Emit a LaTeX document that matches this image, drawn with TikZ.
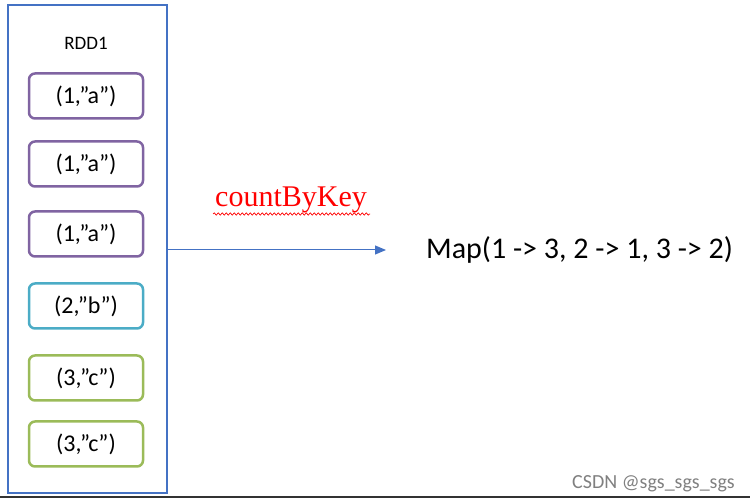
\documentclass[tikz,border=0pt]{standalone}
\usepackage{fontspec}
\setmainfont{Carlito}
\newfontfamily\serifred{Liberation Serif}
\usetikzlibrary{decorations.pathmorphing,arrows.meta}
\definecolor{outerblue}{HTML}{4472C4}
\definecolor{purp}{HTML}{8064A2}
\definecolor{teal}{HTML}{4BACC6}
\definecolor{lgreen}{HTML}{9BBB59}
\definecolor{arrowblue}{HTML}{4472C4}
\tikzset{pair/.style={draw=#1,line width=2.5pt,rounded corners=6pt,minimum width=114pt,minimum height=45pt,font=\fontsize{24}{28}\selectfont,inner sep=0pt}}
\begin{document}
\begin{tikzpicture}[x=1pt,y=-1pt]
\useasboundingbox (0,0) rectangle (750,502);
\node[draw=outerblue,line width=2pt,minimum width=159pt,minimum height=488pt,inner sep=0pt] (rdd) at (87.5,249) {};
\node[font=\fontsize{19}{22}\selectfont] (title) at (86,43) {RDD1};
\node[pair=purp] (p1) at (86,96) {(1,”a”)};
\node[pair=purp] (p2) at (86,164) {(1,”a”)};
\node[pair=purp] (p3) at (86,234) {(1,”a”)};
\node[pair=teal] (p4) at (86,306) {(2,”b”)};
\node[pair=lgreen] (p5) at (86,378) {(3,”c”)};
\node[pair=lgreen] (p6) at (86,444) {(3,”c”)};
\node[anchor=west,font=\fontsize{30}{34}\selectfont,inner sep=0pt] (map) at (426,250) {Map(1 -> 3, 2 -> 1, 3 -> 2)};
\coordinate (a0) at (168,250);
\coordinate (a1) at (386,250);
\draw[arrowblue,line width=1pt,-{Triangle[length=11pt,width=9pt]}] (a0) -- (a1);
\node[text=red,font=\serifred\fontsize{30}{34}\selectfont,inner sep=0pt] (cbk) at (291,200) {countByKey};
\draw[red,line width=0.7pt,decorate,decoration={snake,amplitude=1.2pt,segment length=4pt}] (213,214) coordinate (u0) -- (370,214) coordinate (u1);
\node[text=gray,font=\fontsize{20}{24}\selectfont,anchor=east,inner sep=0pt] (wm) at (735,484) {CSDN @sgs\_sgs\_sgs};
\draw[black!80,line width=1.5pt] (0,497) -- (750,497);
\end{tikzpicture}
\end{document}
